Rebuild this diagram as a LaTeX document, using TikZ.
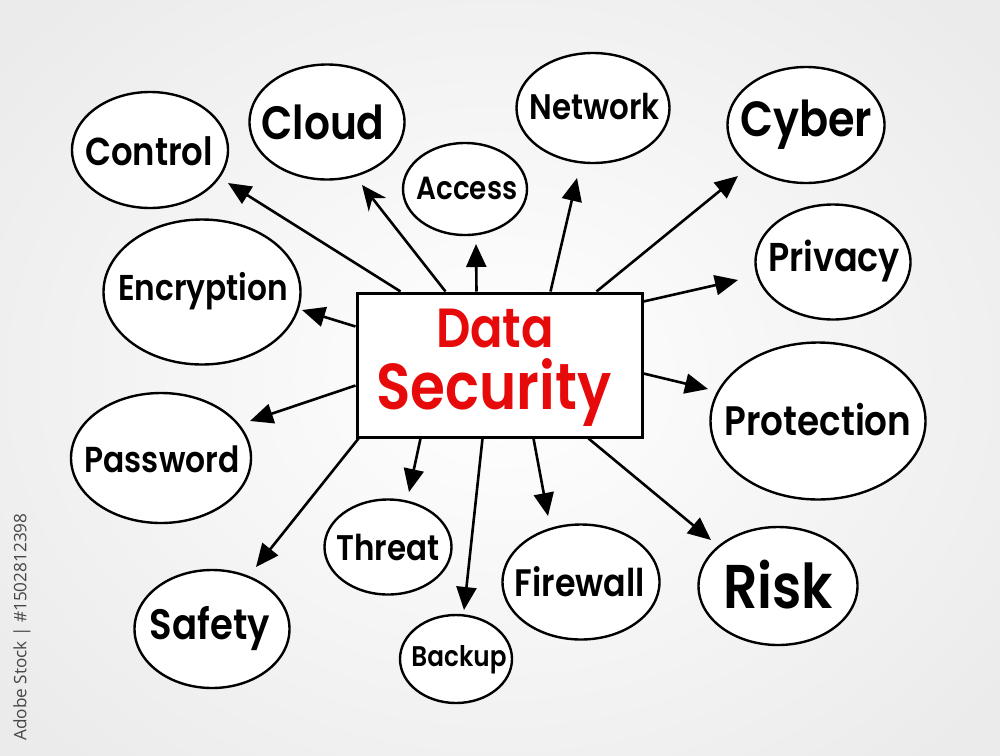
\documentclass[tikz,border=0pt]{standalone}
\usepackage{fontspec}
\setmainfont{Poppins}[BoldFont={Poppins SemiBold}]
\newfontfamily\stockfont{Open Sans}
\usetikzlibrary{shapes.geometric,arrows.meta,calc}
\definecolor{dsred}{RGB}{230,10,10}
\definecolor{stockgray}{RGB}{70,70,70}
\tikzset{
 bubble/.style={ellipse, draw=black, line width=2.4pt, fill=white, inner sep=0pt},
 arr/.style={line width=2.6pt, -{Triangle[length=23pt,width=20pt]}},
 arrs/.style={line width=2.6pt, -{Stealth[length=25pt,width=22pt]}},
 lbl/.style={font=\bfseries, text=black, inner sep=0pt},
 redlbl/.style={font=\bfseries, text=dsred, inner sep=0pt},
 centre/.style={draw=black, line width=3pt, fill=white, inner sep=0pt}
}
\newcommand{\fitw}[2]{\scalebox{1}[1.15]{\resizebox{#1pt}{!}{#2}}}
\begin{document}
\begin{tikzpicture}[x=1pt,y=-1pt]
\useasboundingbox (0,0) rectangle (1000,755);
\shade[inner color=white, outer color=black!8] (-150,-150) rectangle (1150,905);

% central box
\node[centre, minimum width=285pt, minimum height=144pt] (ds) at (499.5,365) {};
\node[redlbl, anchor=base] (data) at (495,347) {\fitw{118}{Data}};
\node[redlbl, anchor=base] (security) at (494,409) {\fitw{235}{Security}};

% arrow tips
\coordinate (tcontrol) at (228,183);
\coordinate (tcloud) at (362,185);
\coordinate (taccess) at (476,244);
\coordinate (tnetwork) at (577,178);
\coordinate (tcyber) at (738,176);
\coordinate (tprivacy) at (738,280);
\coordinate (tencryption) at (302,310);
\coordinate (tprotection) at (708,389);
\coordinate (tpassword) at (250,421);
\coordinate (tsafety) at (256,567);
\coordinate (tthreat) at (409,492);
\coordinate (tbackup) at (464,610);
\coordinate (tfirewall) at (548,516);
\coordinate (trisk) at (711,540);

% arrows
\draw[arr]  ($(ds.north west)+(45,0)$) -- (tcontrol);
\draw[arrs] ($(ds.north west)+(90,0)$) -- (tcloud);
\draw[arr]  ($(ds.north west)+(121,0)$) -- (taccess);
\draw[arr]  ($(ds.north west)+(195,0)$) -- (tnetwork);
\draw[arr]  ($(ds.north west)+(241,0)$) -- (tcyber);
\draw[arr]  ($(ds.north east)+(0,10)$) -- (tprivacy);
\draw[arr]  ($(ds.north west)+(0,35)$) -- (tencryption);
\draw[arr]  ($(ds.north east)+(0,82)$) -- (tprotection);
\draw[arr]  ($(ds.north west)+(0,94)$) -- (tpassword);
\draw[arr]  ($(ds.south west)+(3,0)$) -- (tsafety);
\draw[arr]  ($(ds.south west)+(65,0)$) -- (tthreat);
\draw[arr]  ($(ds.south west)+(127,0)$) -- (tbackup);
\draw[arr]  ($(ds.south west)+(178,0)$) -- (tfirewall);
\draw[arr]  ($(ds.south west)+(233,0)$) -- (trisk);

% bubbles
\node[bubble, minimum width=156pt, minimum height=116pt] (control) at (150,150) {};
\node[bubble, minimum width=155pt, minimum height=115pt] (cloud) at (327,122) {};
\node[bubble, minimum width=124pt, minimum height=92pt] (access) at (465,189) {};
\node[bubble, minimum width=153pt, minimum height=110pt] (network) at (593,108) {};
\node[bubble, minimum width=157pt, minimum height=116pt] (cyber) at (806,125) {};
\node[bubble, minimum width=155pt, minimum height=115pt] (privacy) at (833,262) {};
\node[bubble, minimum width=197pt, minimum height=145pt] (encryption) at (202,292) {};
\node[bubble, minimum width=215pt, minimum height=157pt] (protection) at (818,421) {};
\node[bubble, minimum width=180pt, minimum height=130pt] (password) at (161,458) {};
\node[bubble, minimum width=127pt, minimum height=95pt] (threat) at (388,547) {};
\node[bubble, minimum width=157pt, minimum height=115pt] (firewall) at (581,582) {};
\node[bubble, minimum width=159pt, minimum height=118pt] (risk) at (778,586) {};
\node[bubble, minimum width=155pt, minimum height=118pt] (safety) at (212,629) {};
\node[bubble, minimum width=112pt, minimum height=88pt] (backup) at (456,659) {};

% labels
\node[lbl] (lcontrol) at (149,151) {\fitw{128}{Control}};
\node[lbl] (lcloud) at (323,122) {\fitw{123}{Cloud}};
\node[lbl] (laccess) at (467,188) {\fitw{101}{Access}};
\node[lbl] (lnetwork) at (595,107) {\fitw{130}{Network}};
\node[lbl] (lcyber) at (806,125) {\fitw{132}{Cyber}};
\node[lbl] (lprivacy) at (834,261) {\fitw{132}{Privacy}};
\node[lbl] (lencryption) at (203,291) {\fitw{170}{Encryption}};
\node[lbl] (lprotection) at (818,420) {\fitw{187}{Protection}};
\node[lbl] (lpassword) at (162,459) {\fitw{155}{Password}};
\node[lbl] (lthreat) at (388,547) {\fitw{103}{Threat}};
\node[lbl] (lfirewall) at (580,582) {\fitw{130}{Firewall}};
\node[lbl] (lrisk) at (778,585) {\fitw{110}{Risk}};
\node[lbl] (lsafety) at (210,628) {\fitw{120}{Safety}};
\node[lbl] (lbackup) at (459,660) {\fitw{95}{Backup}};

% stock id
\node[rotate=90, font=\stockfont, text=stockgray] (stock) at (22,627) {\resizebox{227pt}{!}{Adobe Stock | \#1502812398}};
\end{tikzpicture}
\end{document}
